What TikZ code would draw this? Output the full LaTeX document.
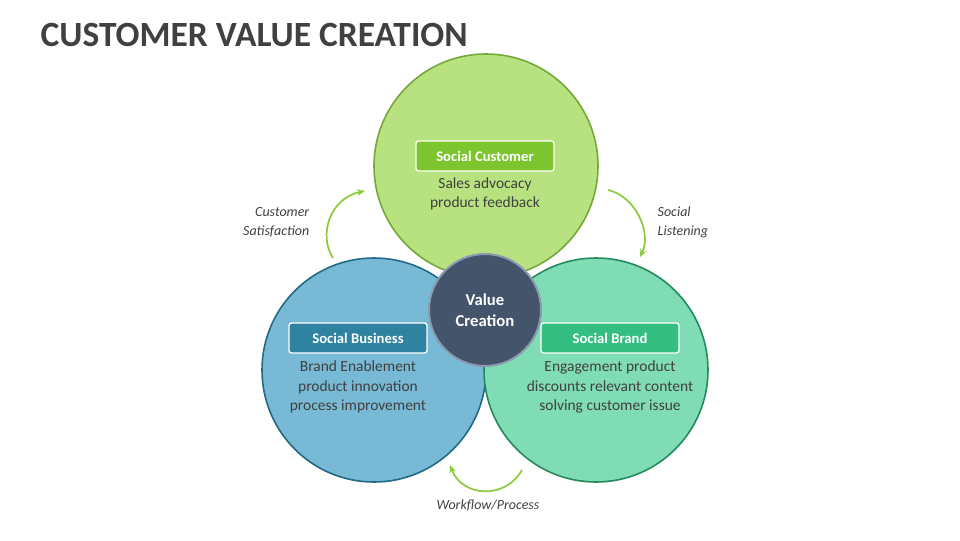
\documentclass[tikz,border=0pt]{standalone}
\usepackage{fontspec}
\setmainfont{Carlito}
\usetikzlibrary{arrows.meta}
\definecolor{tg}{HTML}{B8E27F}\definecolor{tgd}{HTML}{74A83A}
\definecolor{lb}{HTML}{78B9D5}\definecolor{lbd}{HTML}{236A86}
\definecolor{rg}{HTML}{80DCB4}\definecolor{rgd}{HTML}{238A5E}
\definecolor{cn}{HTML}{44546A}\definecolor{cnd}{HTML}{8A9AB0}
\definecolor{bx1}{HTML}{7DC52E}\definecolor{bx2}{HTML}{2F82A0}\definecolor{bx3}{HTML}{34BE82}
\definecolor{txt}{HTML}{404040}\definecolor{arr}{HTML}{8CCB3C}
\newlength\pxu \setlength\pxu{0.75pt}
\tikzset{
 bigc/.style={circle,minimum size=224\pxu,inner sep=0pt,line width=1.2pt},
 lab/.style={rounded corners=2pt,draw=white,line width=1pt,minimum width=138\pxu,minimum height=30\pxu,text=white,font=\bfseries\fontsize{11}{12}\selectfont},
 body/.style={text=txt,align=center,font=\fontsize{11.6}{14.5}\selectfont},
 ital/.style={text=txt,align=center,font=\itshape\fontsize{10.5}{14}\selectfont},
 carr/.style={arr,line width=1.3pt,-{Stealth[length=6pt,width=5pt]}}
}
\begin{document}
\begin{tikzpicture}[x=0.75pt,y=-0.75pt]
\useasboundingbox (0,0) rectangle (960,540);
\node[anchor=west,text=txt,font=\bfseries\fontsize{26.6}{30}\selectfont] (title) at (36,35) {CUSTOMER VALUE CREATION};
\node[bigc,fill=lb,draw=lbd] (L) at (374,370) {};
\node[bigc,fill=rg,draw=rgd] (R) at (596,370) {};
\node[bigc,fill=tg,draw=tgd] (T) at (486,166) {};
\node[circle,minimum size=112\pxu,fill=cn,draw=cnd,line width=1.5pt,text=white,align=center,font=\bfseries\fontsize{12.5}{16}\selectfont] (C) at (485,310) {Value\\Creation};
\node[lab,fill=bx1] (lt) at (485,156) {Social Customer};
\node[lab,fill=bx2] (ll) at (358,338) {Social Business};
\node[lab,fill=bx3] (lr) at (610,338) {Social Brand};
\node[body] (bt) at (485,194) {Sales advocacy\\product feedback};
\node[body] (bl) at (358,387) {Brand Enablement\\product innovation\\process improvement};
\node[body] (br) at (610,387) {Engagement product\\discounts relevant content\\solving customer issue};
\node[ital,align=right,anchor=east] (cs) at (314,222) {Customer\\Satisfaction};
\node[ital,align=left,anchor=west] (sl) at (653,222) {Social\\Listening};
\node[ital] (wf) at (488,505) {Workflow/Process};
\coordinate (a1) at (333,258);\coordinate (a2) at (365,191);
\coordinate (b1) at (608,190);\coordinate (b2) at (640,257);
\coordinate (c1) at (522,470);\coordinate (c2) at (450,465);
\draw[carr] (a1) .. controls (318,235) and (330,198) .. (a2);
\draw[carr] (b1) .. controls (635,196) and (652,232) .. (b2);
\draw[carr] (c1) .. controls (505,500) and (462,497) .. (c2);
\end{tikzpicture}
\end{document}
